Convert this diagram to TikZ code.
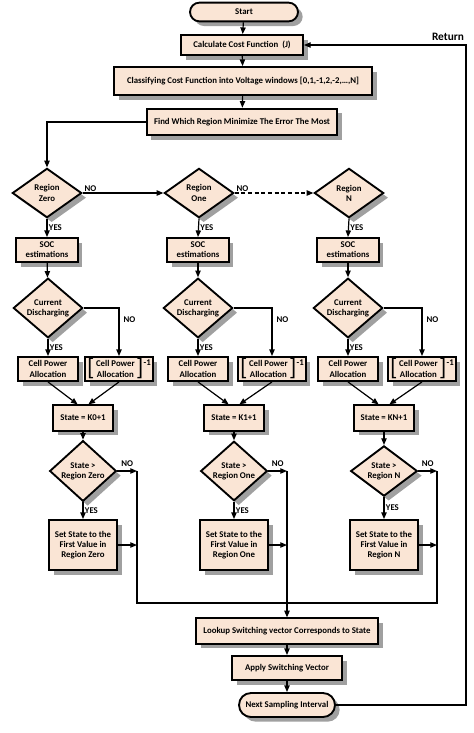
\documentclass[tikz,border=0pt]{standalone}
\usepackage{fontspec}
\setmainfont{Carlito}
\usepackage{tikz}
\usepackage{xcolor}
\usetikzlibrary{shapes.geometric,shadows,arrows.meta}
\definecolor{peach}{RGB}{250,229,213}
\newcommand{\cellinv}{\raisebox{-2.2pt}{\fontsize{18}{18}\selectfont\mdseries[}\,\begin{tabular}{@{}c@{}}Cell Power\\Allocation\end{tabular}\,\raisebox{-2.2pt}{\fontsize{18}{18}\selectfont\mdseries]}\raisebox{5pt}{-1}}

\begin{document}
\begin{tikzpicture}[x=0.75pt,y=0.75pt,yscale=-1,xscale=1,
    blk/.style={draw,line width=1.4pt,fill=peach,font=\bfseries\fontsize{6.6}{7.6}\selectfont,align=center,inner sep=1pt,
      drop shadow={shadow xshift=3.5pt,shadow yshift=-3.5pt,opacity=0.75}},
    dia/.style={blk,diamond,minimum width=52pt,minimum height=37pt,inner sep=0pt},
    ends/.style={blk,rounded corners=7pt},
    invbox/.style={blk,minimum height=18pt,inner xsep=1.5pt,inner ysep=0pt},
    arr/.style={-{Triangle[length=5pt,width=4pt]},line width=0.9pt},
    lnk/.style={line width=0.9pt},
    lbl/.style={font=\bfseries\fontsize{6.6}{7.6}\selectfont,inner sep=1pt}]
    \useasboundingbox (0,0) rectangle (474,733);

    % Top chain
    \node [ends,minimum width=81pt,minimum height=14pt] (start) at (244,12) {Start};
    \node [blk,minimum width=91.5pt,minimum height=15pt] (calc) at (242,45) {Calculate Cost Function~~(J)};
    \node [blk,minimum width=193.5pt,minimum height=21pt] (class) at (243,81) {Classifying Cost Function into Voltage windows [0,1,-1,2,-2,\ldots,N]};
    \node [blk,minimum width=143pt,minimum height=20pt] (find) at (242,122) {Find Which Region Minimize The Error The Most};

    % Region diamonds
    \node [dia] (reg0) at (47,193) {Region\\Zero};
    \node [dia] (reg1) at (199,193) {Region\\One};
    \node [dia] (reg2) at (349,193) {Region\\N};

    % SOC boxes
    \node [blk,minimum width=46pt,minimum height=18pt] (soc0) at (47,250) {SOC\\estimations};
    \node [blk,minimum width=46pt,minimum height=18pt] (soc1) at (198,250) {SOC\\estimations};
    \node [blk,minimum width=46pt,minimum height=18pt] (soc2) at (348,250) {SOC\\estimations};

    % Current discharging diamonds
    \node [dia] (cur0) at (48,308) {Current\\Discharging};
    \node [dia] (cur1) at (198,308) {Current\\Discharging};
    \node [dia] (cur2) at (348,308) {Current\\Discharging};

    % Cell power allocation boxes
    \node [blk,minimum width=45pt,minimum height=18pt] (cpa0) at (48,369) {Cell Power\\Allocation};
    \node [blk,minimum width=45pt,minimum height=18pt] (cpa1) at (198,369) {Cell Power\\Allocation};
    \node [blk,minimum width=45pt,minimum height=18pt] (cpa2) at (348,369) {Cell Power\\Allocation};
    \node [invbox] (inv0) at (119,369) {\cellinv};
    \node [invbox] (inv1) at (272,369) {\cellinv};
    \node [invbox] (inv2) at (422,369) {\cellinv};

    % State update boxes
    \node [blk,minimum width=45pt,minimum height=19pt] (st0) at (83,418) {State = K0+1};
    \node [blk,minimum width=45pt,minimum height=19pt] (st1) at (234,418) {State = K1+1};
    \node [blk,minimum width=45pt,minimum height=19pt] (st2) at (384,418) {State = KN+1};

    % State check diamonds
    \node [dia,minimum width=50pt] (chk0) at (83,471) {State >\\Region Zero};
    \node [dia,minimum width=50pt] (chk1) at (234,471) {State >\\Region One};
    \node [dia,minimum width=50pt] (chk2) at (384,471) {State >\\Region N};

    % Set state boxes
    \node [blk,minimum width=51pt,minimum height=37.5pt] (set0) at (83,545) {Set State to the\\First Value in\\Region Zero};
    \node [blk,minimum width=51pt,minimum height=37.5pt] (set1) at (234,545) {Set State to the\\First Value in\\Region One};
    \node [blk,minimum width=51pt,minimum height=37.5pt] (set2) at (384,545) {Set State to the\\First Value in\\Region N};

    % Bottom chain
    \node [blk,minimum width=136.5pt,minimum height=19pt] (look) at (287,631) {Lookup Switching vector Corresponds to State};
    \node [blk,minimum width=82.5pt,minimum height=18pt] (apply) at (287,668) {Apply Switching Vector};
    \node [ends,rounded corners=9pt,minimum width=72pt,minimum height=18pt] (next) at (287,705) {Next Sampling Interval};

    % Junction points
    \coordinate (b0) at (137,471);
    \coordinate (b1) at (287,471);
    \coordinate (b2) at (437,471);
    \coordinate (c0) at (137,603);
    \coordinate (c1) at (287,603);
    \coordinate (c2) at (437,603);
    \coordinate (ret) at (466,45);

    %Straight Lines
    \draw [arr] (start) -- (calc);
    \draw [arr] (calc) -- (class);
    \draw [arr] (class) -- (find);
    \draw [arr] (find.west) -| (reg0.north);
    \draw [arr] (reg0.east) -- node [lbl,pos=0,anchor=south west] {NO} (reg1.west);
    \draw [arr,densely dashed] (reg1.east) -- node [lbl,pos=0,anchor=south west] {NO} (reg2.west);

    \draw [arr] (reg0.south) -- node [lbl,right] {YES} (soc0.north);
    \draw [arr] (reg1.south) -- node [lbl,right] {YES} (soc1.north);
    \draw [arr] (reg2.south) -- node [lbl,right] {YES} (soc2.north);
    \draw [arr] (soc0) -- (cur0);
    \draw [arr] (soc1) -- (cur1);
    \draw [arr] (soc2) -- (cur2);

    \draw [arr] (cur0.south) -- node [lbl,right] {YES} (cpa0.north);
    \draw [arr] (cur1.south) -- node [lbl,right] {YES} (cpa1.north);
    \draw [arr] (cur2.south) -- node [lbl,right] {YES} (cpa2.north);
    \draw [arr] (cur0.east) -| node [lbl,pos=0.62,anchor=west,xshift=2pt] {NO} (inv0.north);
    \draw [arr] (cur1.east) -| node [lbl,pos=0.62,anchor=west,xshift=2pt] {NO} (inv1.north);
    \draw [arr] (cur2.east) -| node [lbl,pos=0.62,anchor=west,xshift=2pt] {NO} (inv2.north);

    \draw [arr] (cpa0.south) -- ([xshift=-4pt]st0.north);
    \draw [arr] (inv0.south) -- ([xshift=4pt]st0.north);
    \draw [arr] (cpa1.south) -- ([xshift=-4pt]st1.north);
    \draw [arr] (inv1.south) -- ([xshift=4pt]st1.north);
    \draw [arr] (cpa2.south) -- ([xshift=-4pt]st2.north);
    \draw [arr] (inv2.south) -- ([xshift=4pt]st2.north);

    \draw [arr] (st0) -- (chk0);
    \draw [arr] (st1) -- (chk1);
    \draw [arr] (st2) -- (chk2);
    \draw [arr] (chk0.south) -- node [lbl,right] {YES} (set0.north);
    \draw [arr] (chk1.south) -- node [lbl,right] {YES} (set1.north);
    \draw [arr] (chk2.south) -- node [lbl,right] {YES} (set2.north);

    \draw [arr] (chk0.east) -- node [lbl,above,yshift=2pt] {NO} (b0);
    \draw [arr] (chk1.east) -- node [lbl,above,yshift=2pt] {NO} (b1);
    \draw [arr] (chk2.east) -- node [lbl,above,yshift=2pt] {NO} (b2);
    \draw [arr] (set0.east) -- (set0.east -| b0);
    \draw [arr] (set1.east) -- (set1.east -| b1);
    \draw [arr] (set2.east) -- (set2.east -| b2);

    \draw [lnk] (b0) -- (c0) -- (c2) -- (b2);
    \draw [arr] (b1) -- (look.north);
    \draw [arr] (look) -- (apply);
    \draw [arr] (apply) -- (next);
    \draw [arr] (next.east) -| (ret) -- (calc.east);

    % Text Node
    \node [font=\bfseries\fontsize{8.5}{10}\selectfont] (rettxt) at (448,37) {Return};

\end{tikzpicture}
\end{document}
